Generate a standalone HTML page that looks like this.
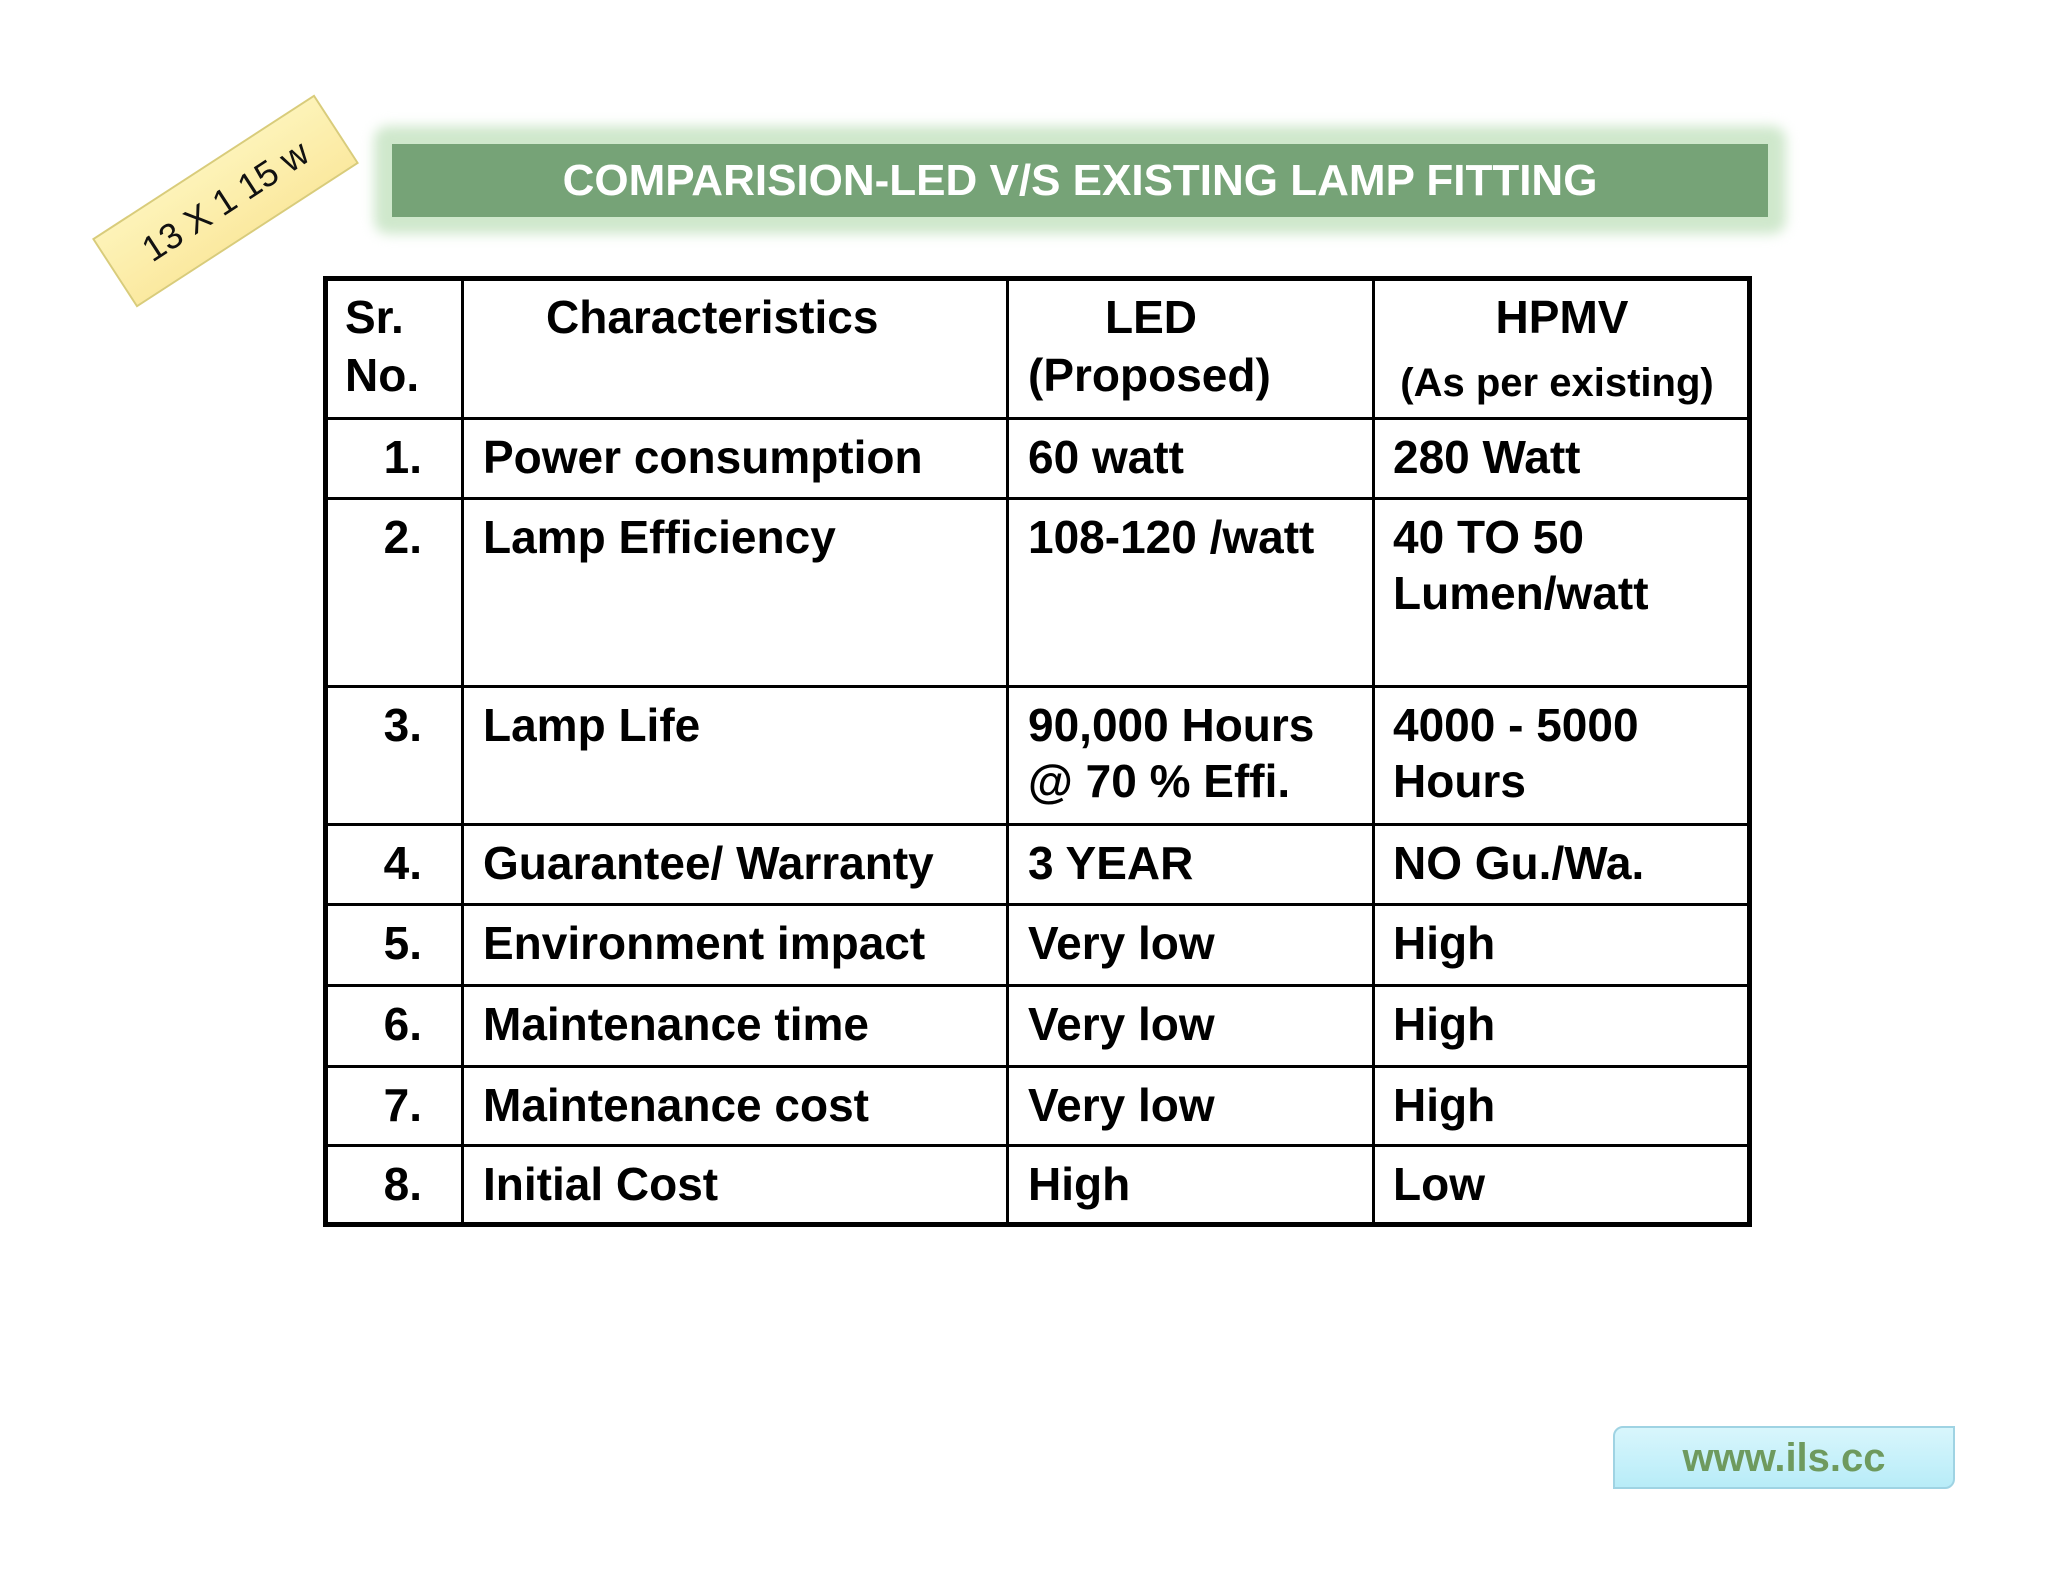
<!DOCTYPE html>
<html><head><meta charset="utf-8">
<style>
body{margin:0;width:2048px;height:1582px;background:#fff;position:relative;overflow:hidden;font-family:"Liberation Sans",Arial,sans-serif}
.t{position:absolute;font-weight:bold;font-size:46px;line-height:56px;color:#000;white-space:nowrap}
.hl{position:absolute;background:#000}
</style></head><body>
<div style="position:absolute;left:93px;top:160px;width:261px;height:78px;transform:rotate(-33deg);background:linear-gradient(#fdf3b8,#fbe9a0);border:2px solid #d9cc7a;display:flex;align-items:center;justify-content:center;font-size:36px;color:#111">13 X 1 15 w</div>
<div style="position:absolute;left:374px;top:126px;width:1412px;height:108px;background:#cfe8cc;border-radius:14px;filter:blur(6px)"></div>
<div style="position:absolute;left:392px;top:144px;width:1376px;height:73px;background:#76a377;color:#fff;font-size:44px;font-weight:bold;text-align:center;line-height:73px;font-family:'Liberation Sans Narrow','Liberation Sans',sans-serif">COMPARISION-LED V/S EXISTING LAMP FITTING</div>

<div style="position:absolute;left:323px;top:276px;width:1429px;height:951px;border:5px solid #000;box-sizing:border-box"></div>
<div id="lines"></div>

<div class="t" style="left:345px;top:289px">Sr.</div>
<div class="t" style="left:345px;top:347px">No.</div>
<div class="t" style="left:546px;top:289px">Characteristics</div>
<div class="t" style="left:1105px;top:289px">LED</div>
<div class="t" style="left:1028px;top:347px">(Proposed)</div>
<div class="t" style="left:1373px;width:378px;text-align:center;top:289px">HPMV</div>
<div class="t" style="left:1368px;width:378px;text-align:center;top:355px;font-size:40px">(As per existing)</div>

<div id="rows"></div>

<div style="position:absolute;left:1613px;top:1426px;width:342px;height:63px;box-sizing:border-box;border:2px solid #9fd3e3;border-radius:10px 0 10px 0;background:linear-gradient(#d8f6fc,#b8ecf8);text-align:center;line-height:60px;font-size:40px;font-weight:bold;color:#6e9a5e">www.ils.cc</div>

<script>
const nums=["1.","2.","3.","4.","5.","6.","7.","8."];
const chars=["Power consumption","Lamp Efficiency","Lamp Life","Guarantee/ Warranty","Environment impact","Maintenance time","Maintenance cost","Initial Cost"];
const led=[["60 watt"],["108-120 /watt"],["90,000 Hours","@ 70 % Effi."],["3 YEAR"],["Very low"],["Very low"],["Very low"],["High"]];
const hpmv=[["280 Watt"],["40 TO 50","Lumen/watt"],["4000 - 5000","Hours"],["NO Gu./Wa."],["High"],["High"],["High"],["Low"]];
const rowTops=[418,498,686,824,904,985,1066,1145];
const colX=[462,1007,1373];
const L=document.getElementById('lines');
rowTops.forEach((y,i)=>{const d=document.createElement('div');d.className='hl';


d.style.cssText=`left:325px;top:${y-1}px;width:1425px;height:3px`;L.appendChild(d);});
colX.forEach(x=>{const d=document.createElement('div');d.className='hl';


d.style.cssText=`left:${x-1}px;top:278px;width:3px;height:946px`;L.appendChild(d);});
const R=document.getElementById('rows');
function add(txt,left,top,name,w,align){const d=document.createElement('div');d.className='t';


d.textContent=txt;d.style.left=left+'px';d.style.top=top+'px';
if(w){d.style.width=w+'px';d.style.textAlign=align;}R.appendChild(d);}
rowTops.forEach((y,i)=>{const t=y+11;
add(nums[i],325,t,'row-number',97,'right');
add(chars[i],483,t,'characteristic');
led[i].forEach((s,j)=>add(s,1028,t+j*56,'led-value'));
hpmv[i].forEach((s,j)=>add(s,1393,t+j*56,'hpmv-value'));});
</script>
</body></html>
